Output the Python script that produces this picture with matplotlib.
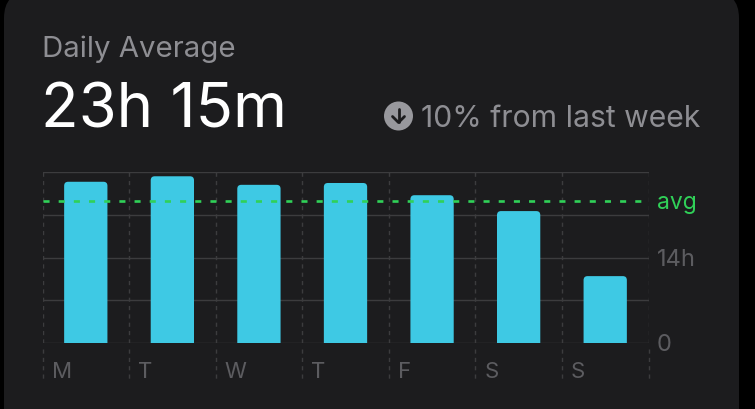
import matplotlib
matplotlib.use("Agg")
import matplotlib.pyplot as plt
from matplotlib.patches import Circle, FancyBboxPatch, PathPatch
from matplotlib.path import Path

days = ["M", "T", "W", "T", "F", "S", "S"]
hours = [26.4, 27.3, 25.9, 26.2, 24.2, 21.6, 10.95]
average_hours = 23.25
grid_hours = [0, 7, 14, 21, 28]
y_labels = {0: "0", 14: "14h"}

CARD = "#1c1c1e"
BAR = "#3ec9e4"
GREEN = "#30d158"
GRID = "#3c3c3e"
MUTED = "#5c5c60"
SOFT = "#8e8e93"

plt.rcParams["font.family"] = ["Inter", "DejaVu Sans"]

W, H = 755, 409
PT = 72 / 100  # points par pixel
fig = plt.figure(figsize=(W / 100, H / 100), dpi=100, facecolor="black")

# fond de carte + textes, en pixels de l'image
bg = fig.add_axes([0, 0, 1, 1])
bg.set_xlim(0, W)
bg.set_ylim(H, 0)
bg.axis("off")
bg.add_patch(FancyBboxPatch((4, -8), 735, 460, boxstyle="round,pad=0,rounding_size=26",
                            facecolor=CARD, edgecolor="none"))
bg.text(42.5, 57, "Daily Average", color=SOFT, fontsize=21.2, va="baseline", ha="left")
bg.text(41, 127, "23h 15m", color="white", fontsize=44.4, va="baseline", ha="left")
bg.text(421, 127, "10% from last week", color=SOFT, fontsize=21.7, va="baseline", ha="left")
bg.add_patch(Circle((398.5, 116), 14.5, facecolor="#98989d", edgecolor="none"))
bg.plot([398.5, 398.5], [108.5, 122], color=CARD, lw=2, solid_capstyle="round")
bg.plot([392.5, 398.5, 404.5], [116.5, 122.5, 116.5], color=CARD, lw=2,
        solid_capstyle="round", solid_joinstyle="round")

ax = fig.add_axes([42.5 / W, 1 - 343 / H, 606 / W, 171 / H])
ax.patch.set_alpha(0)
ax.set_xlim(0, len(days))
ax.set_ylim(0, grid_hours[-1])
for side in ax.spines.values():
    side.set_visible(False)
ax.set_xticks([])
ax.set_yticks([])

for h in grid_hours:
    ax.axhline(h, color=GRID, lw=1, zorder=1)
for i in range(len(days) + 1):
    ax.plot([i, i], [0, grid_hours[-1]], color=GRID, lw=1, ls=(0, (3, 3)), zorder=1)
    # le pointille descend sous l'axe, jusqu'aux jours
    ax.plot([i, i], [-1.0, -6.2], color=GRID, lw=1, ls=(0, (3, 3)), zorder=1, clip_on=False)

# barres a coins arrondis en haut
bar_width = 0.5
rx, ry = 4 / (606 / 7), 4 / (171 / 28)
for i, h in enumerate(hours):
    x0 = i + 0.5 - bar_width / 2
    x1 = x0 + bar_width
    verts = [(x0, 0), (x0, h - ry), (x0, h), (x0 + rx, h), (x1 - rx, h), (x1, h),
             (x1, h - ry), (x1, 0), (x0, 0)]
    codes = [Path.MOVETO, Path.LINETO, Path.CURVE3, Path.CURVE3, Path.LINETO,
             Path.CURVE3, Path.CURVE3, Path.LINETO, Path.CLOSEPOLY]
    ax.add_patch(PathPatch(Path(verts, codes), facecolor=BAR, edgecolor="none", zorder=2))

ax.plot([0, 6.92], [average_hours, average_hours], color=GREEN, lw=1.9,
        ls=(0, (2.3, 3.45)), zorder=3, clip_on=False)


def label(text, xy, dx, dy, color, size):
    ax.annotate(text, xy, xytext=(dx * PT, dy * PT), textcoords="offset points",
                color=color, fontsize=size, ha="left", va="baseline", annotation_clip=False)


for i, day in enumerate(days):
    label(day, (i, 0), 9, -34.7, MUTED, 16)
for h, text in y_labels.items():
    label(text, (7, h), 8.5, -8.2, MUTED, 17)
label("avg", (7, average_hours), 8.5, -7.5, GREEN, 16.5)

fig.savefig("out.png", dpi=100, facecolor=fig.get_facecolor())
